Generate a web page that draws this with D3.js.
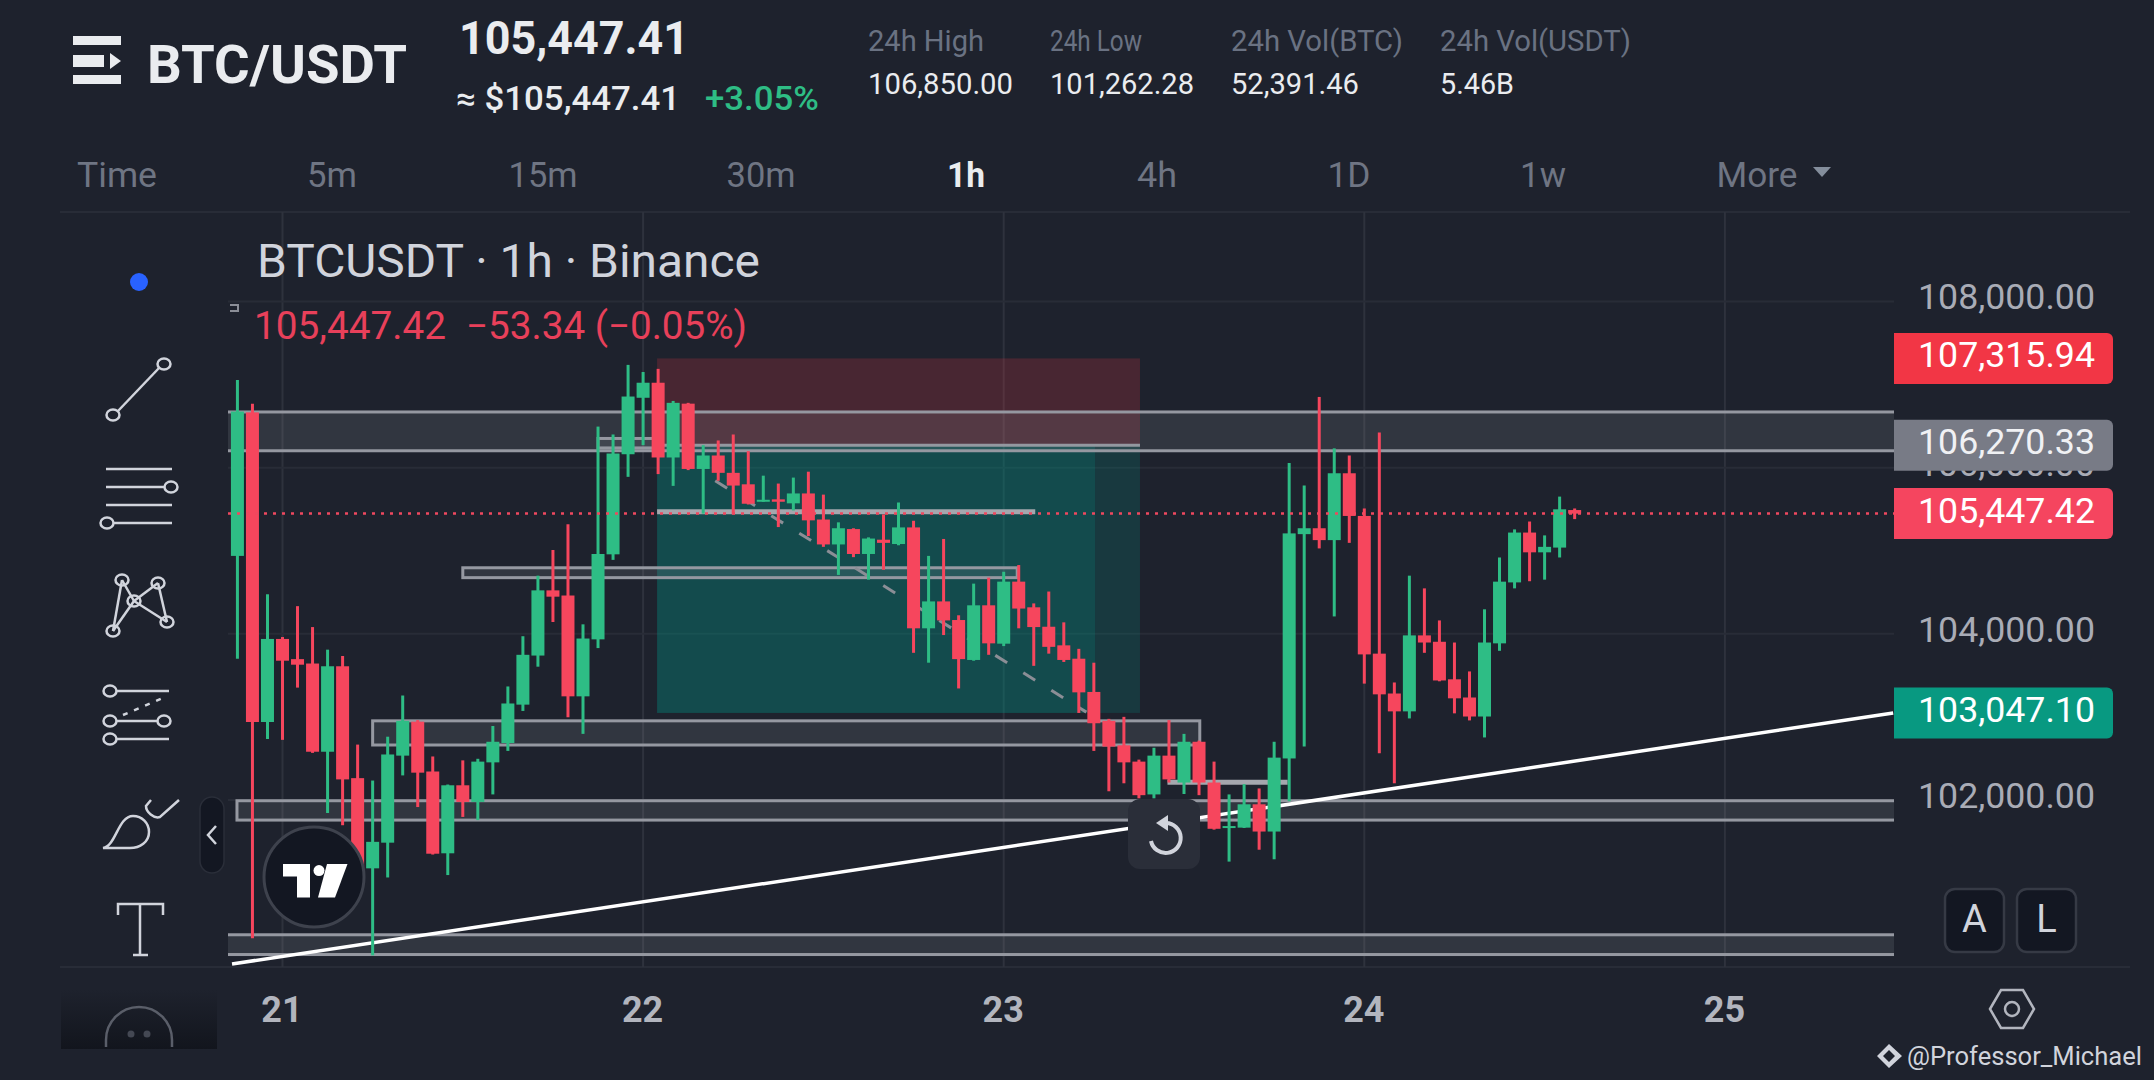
<!DOCTYPE html>
<html>
<head>
<meta charset="utf-8">
<script src="https://cdn.jsdelivr.net/npm/d3@7/dist/d3.min.js"></script>
<style>
  html, body { margin: 0; padding: 0; background: #1e222d; overflow: hidden; }
  svg { display: block; }
</style>
</head>
<body>
<svg id="chart" width="2154" height="1080"></svg>
<script>
// hours since the 21st 00:00, first candle is three hours before
const hours = d3.range(-3, 87)
const opens = [104938,106666,102938,103938,103695,103642,102580,103609,102262,101176,101485,102533,102942,102342,101357,102176,101976,102452,102685,103147,103738,104523,104461,103247,103933,104957,106162,106842,107023,106123,106771,105985,106147,105938,105800,105590,105619,105571,105690,105376,105076,105261,104961,105133,105081,105281,104066,104390,104166,103685,104343,103881,104628,104319,104085,103861,103700,103300,102952,102657,102461,102066,102533,102209,102700,102209,101662,101666,101947,101619,102499,105200,105271,105128,105933,105419,103761,103281,103066,103981,103904,103452,103233,103004,103885,104619,105219,104981,105038,105490]
const highs = [107057,106771,104476,103961,104333,104081,103809,103733,102666,102233,102761,103257,102961,102523,102185,102476,102495,102890,103366,103971,104700,105009,105319,104114,106495,106400,107238,107152,107190,106804,106781,106271,106328,106400,106200,105904,105809,105881,105952,105676,105342,105271,105161,105438,105581,105361,104938,105142,104223,104604,104676,104747,104828,104366,104509,104138,103819,103652,102976,103000,102485,102628,102961,102795,102714,102461,102066,102190,102138,102700,106057,105785,106852,106233,106147,105509,106423,103414,104700,104547,104161,103895,103547,104295,104919,105257,105352,105185,105652,105509]
const lows = [103700,100333,102733,102723,103352,102566,101842,101695,101152,100128,101066,102295,101914,101342,101095,101795,101757,102066,102590,103071,103604,104142,102995,102795,103828,104890,105890,106271,105923,105781,105971,105447,105842,105438,105557,105590,105285,105485,105176,105047,104709,104923,104652,104771,105066,103771,103652,103985,103342,103676,103747,103852,104066,103614,103761,103661,103047,102590,102104,102200,102019,102019,102209,102071,102057,101642,101257,101662,101400,101285,101985,102642,105028,104209,105095,103400,102561,102200,102981,103771,103428,103042,102957,102752,103795,104547,104633,104652,104919,105381]
const closes = [106676,102938,103938,103676,103628,102580,103609,102247,101200,101495,102547,102952,102328,101352,102176,101976,102461,102700,103161,103747,104523,104447,103247,103943,104961,106171,106857,107023,106123,106781,105985,106147,105938,105785,105566,105614,105590,105690,105366,105076,105271,104961,105147,105095,105281,104066,104390,104161,103695,104343,103885,104628,104304,104081,103843,103685,103295,102923,102642,102452,102057,102533,102247,102700,102209,101652,101685,101947,101619,102509,105209,105271,105128,105933,105419,103752,103271,103066,103981,103895,103438,103223,103004,103895,104628,105219,104981,105047,105499,105447]

const priceTicks = [108000, 106000, 104000, 102000]
const dayTicks = [0, 24, 48, 72, 96]
const dayLabels = ["21", "22", "23", "24", "25"]

// drawn zones: [start hour, end hour, top price, bottom price]
const zones = [
  [-6, 110, 106671, 106204],
  [21, 25, 106352, 106238],
  [12, 48.9, 104795, 104676],
  [6, 61.05, 102952, 102661],
  [-3.03, 110, 101990, 101757],
  [-6, 110, 100376, 100138]
]
// flat level lines: [start hour, end hour, price]
const levels = [
  [24.93, 50.1, 105471],
  [58.9, 66.9, 102214]
]
const lastPrice = 105447.42
const stopPrice = 107315.94
const entryPrice = 106270.33
const targetPrice = 103047.10
const positionHours = [24.93, 54.08, 57.07]
const trendHours = [-3.36, 107.2]
const trendPrices = [100024, 103047.10]
const dashHours = [28.8, 53.5]
const dashPrices = [105842, 103057]

const tabs = ["Time", "5m", "15m", "30m", "1h", "4h", "1D", "1w", "More"]
const statNames = ["24h High", "24h Low", "24h Vol(BTC)", "24h Vol(USDT)"]
const statValues = ["106,850.00", "101,262.28", "52,391.46", "5.46B"]

var bg = "#1e222d"
var grid = "#282c37"
var green = "#2ebd85"
var red = "#f6465d"
var zoneLine = "#9598a1"
var iconCol = "#d1d4dc"

var svg = d3.select("#chart")
svg.append("rect").attr("width", 2154).attr("height", 1080).attr("fill", bg)

var x = d3.scaleLinear().domain([0, 96]).range([282.5, 1724.9])
var y = d3.scaleLinear().domain([108000, 102000]).range([301.6, 799.9])

var plotLeft = 228, plotRight = 1894, plotTop = 212, plotBottom = 967

var defs = svg.append("defs")
defs.append("clipPath").attr("id", "plot").append("rect")
  .attr("x", plotLeft).attr("y", plotTop)
  .attr("width", plotRight - plotLeft).attr("height", plotBottom - plotTop)
var fade = defs.append("linearGradient").attr("id", "fade").attr("x1", 0).attr("x2", 0).attr("y1", 0).attr("y2", 1)
fade.append("stop").attr("offset", 0).attr("stop-color", "#1e222d")
fade.append("stop").attr("offset", 1).attr("stop-color", "#12151d")

function txt(px, py, s, size, color, weight, len, anchor) {
  var t = svg.append("text").attr("x", px).attr("y", py).text(s)
    .attr("font-family", "Roboto, sans-serif")
    .attr("font-size", size).attr("fill", color)
    .attr("font-weight", weight || 400)
    .attr("text-anchor", anchor || "start")
  if (len) t.attr("textLength", len).attr("lengthAdjust", "spacingAndGlyphs")
  return t
}

// frame and grid
svg.append("g").selectAll("line").data([plotTop, plotBottom]).join("line")
  .attr("x1", 60).attr("x2", 2130).attr("y1", d => d).attr("y2", d => d)
  .attr("stroke", grid).attr("stroke-width", 2)
svg.append("g").selectAll("line").data(dayTicks).join("line")
  .attr("x1", d => x(d)).attr("x2", d => x(d)).attr("y1", plotTop).attr("y2", plotBottom)
  .attr("stroke", "#2e323d").attr("stroke-width", 2)
svg.append("g").selectAll("line").data(priceTicks).join("line")
  .attr("x1", plotLeft).attr("x2", plotRight).attr("y1", d => y(d)).attr("y2", d => y(d))
  .attr("stroke", grid).attr("stroke-width", 2)

var plot = svg.append("g").attr("clip-path", "url(#plot)")

// long position tool
plot.append("rect")
  .attr("x", x(positionHours[0])).attr("width", x(positionHours[2]) - x(positionHours[0]))
  .attr("y", y(stopPrice)).attr("height", y(entryPrice) - y(stopPrice))
  .attr("fill", "rgba(242,54,69,0.2)")
plot.append("rect")
  .attr("x", x(positionHours[0])).attr("width", x(positionHours[2]) - x(positionHours[0]))
  .attr("y", y(entryPrice)).attr("height", y(targetPrice) - y(entryPrice))
  .attr("fill", "rgba(0,150,136,0.2)")
plot.append("rect")
  .attr("x", x(positionHours[0])).attr("width", x(positionHours[1]) - x(positionHours[0]))
  .attr("y", y(entryPrice)).attr("height", y(targetPrice) - y(entryPrice))
  .attr("fill", "rgba(0,150,136,0.2)")
plot.append("line")
  .attr("x1", x(positionHours[0])).attr("x2", x(positionHours[2]))
  .attr("y1", y(entryPrice)).attr("y2", y(entryPrice))
  .attr("stroke", zoneLine).attr("stroke-width", 3)

plot.append("g").selectAll("rect").data(zones).join("rect")
  .attr("x", d => x(d[0])).attr("width", d => x(d[1]) - x(d[0]))
  .attr("y", d => y(d[2])).attr("height", d => y(d[3]) - y(d[2]))
  .attr("fill", "rgba(149,152,161,0.17)")
  .attr("stroke", zoneLine).attr("stroke-width", 3)

plot.append("g").selectAll("line").data(levels).join("line")
  .attr("x1", d => x(d[0])).attr("x2", d => x(d[1]))
  .attr("y1", d => y(d[2])).attr("y2", d => y(d[2]))
  .attr("stroke", "#a5a7ae").attr("stroke-width", 5)

// dashed move line
plot.append("line")
  .attr("x1", x(dashHours[0])).attr("x2", x(dashHours[1]))
  .attr("y1", y(dashPrices[0])).attr("y2", y(dashPrices[1]))
  .attr("stroke", "#8b8e96").attr("stroke-width", 3)
  .attr("stroke-dasharray", "14 19")

// trend line
plot.append("line")
  .attr("x1", x(trendHours[0])).attr("x2", x(trendHours[1]))
  .attr("y1", y(trendPrices[0])).attr("y2", y(trendPrices[1]))
  .attr("stroke", "#ffffff").attr("stroke-width", 3.5)

// candles
var candles = plot.append("g").selectAll("g").data(hours).join("g")
candles.append("line")
  .attr("x1", d => x(d)).attr("x2", d => x(d))
  .attr("y1", (d, i) => y(highs[i])).attr("y2", (d, i) => y(lows[i]))
  .attr("stroke", (d, i) => closes[i] >= opens[i] ? green : red)
  .attr("stroke-width", 3)
candles.append("rect")
  .attr("x", d => x(d) - 6.5).attr("width", 13)
  .attr("y", (d, i) => y(Math.max(opens[i], closes[i])))
  .attr("height", (d, i) => Math.max(2, Math.abs(y(opens[i]) - y(closes[i]))))
  .attr("fill", (d, i) => closes[i] >= opens[i] ? green : red)

// last price line
plot.append("line")
  .attr("x1", plotLeft).attr("x2", plotRight)
  .attr("y1", y(lastPrice)).attr("y2", y(lastPrice))
  .attr("stroke", "#f0485f").attr("stroke-width", 2.5)
  .attr("stroke-dasharray", "3 6")

// price axis
var yAxis = svg.append("g").attr("transform", "translate(1918,0)")
  .call(d3.axisRight(y).tickValues(priceTicks).tickSize(0).tickPadding(0).tickFormat(d3.format(",.2f")))
yAxis.select(".domain").remove()
yAxis.selectAll("text")
  .attr("font-family", "Roboto, sans-serif").attr("font-size", 35)
  .attr("fill", "#a9acb6").attr("dy", "0.21em")
  .attr("textLength", 177).attr("lengthAdjust", "spacingAndGlyphs")

// time axis
var xAxis = svg.append("g").attr("transform", "translate(-1,1009)")
  .call(d3.axisBottom(x).tickValues(dayTicks).tickSize(0).tickPadding(0).tickFormat((d, i) => dayLabels[i]))
xAxis.select(".domain").remove()
xAxis.selectAll("text")
  .attr("font-family", "Roboto, sans-serif").attr("font-size", 36).attr("font-weight", 700)
  .attr("fill", "#b2b5be").attr("y", 0).attr("dy", "0.35em")

// price tags
var tags = [[stopPrice, "#f23645"], [entryPrice, "#787b86"], [lastPrice, "#f5455f"], [targetPrice, "#089981"]]
tags.forEach(function (t) {
  var c = y(t[0])
  svg.append("path")
    .attr("d", `M${plotRight},${c - 25.5}H2107a6,6 0 0 1 6,6V${c + 19.5}a6,6 0 0 1 -6,6H${plotRight}Z`)
    .attr("fill", t[1])
  txt(1918, c + 9, d3.format(",.2f")(t[0]), 35, t[1] == "#787b86" ? "#f0f1f4" : "#ffffff", 400, 177)
})

// header
svg.append("g").selectAll("rect").data([[73, 36, 48, 9], [73, 55, 31, 12], [73, 75, 48, 9]]).join("rect")
  .attr("x", d => d[0]).attr("y", d => d[1]).attr("width", d => d[2]).attr("height", d => d[3])
  .attr("fill", "#eaecef")
svg.append("path").attr("d", "M110,53L121,61L110,69Z").attr("fill", "#eaecef")
txt(147, 83, "BTC/USDT", 53, "#eaecef", 700, 260)
txt(459, 54, "105,447.41", 46, "#eaecef", 700, 230)
txt(456, 110, "≈ $105,447.41", 33, "#eaecef", 500, 224)
txt(705, 110, "+3.05%", 33, green, 500, 114)

var statX = [868, 1050, 1231, 1440]
var statNameW = [116, 92, 172, 191]
var statValW = [145, 144, 128, 74]
statNames.forEach(function (s, i) { txt(statX[i], 51, s, 30, "#6a7282", 400, statNameW[i]) })
statValues.forEach(function (s, i) { txt(statX[i], 94, s, 29, "#eaecef", 400, statValW[i]) })

// interval tabs
var tabX = [117, 332, 543, 761, 966, 1157, 1349, 1543, 1757]
var tabW = [80, 50, 69, 69, 38, 40, 43, 46, 81]
tabs.forEach(function (s, i) {
  txt(tabX[i], 187, s, 35, s == "1h" ? "#eaecef" : "#6f7583", s == "1h" ? 700 : 400, tabW[i], "middle")
})
svg.append("path").attr("d", "M1813,167H1831L1822,177Z").attr("fill", "#848e9c")

// legend
txt(257, 277, "BTCUSDT · 1h · Binance", 46, "#d1d4dc", 400, 503)
txt(254, 339, "105,447.42", 38, "#e8405a", 400, 192)
txt(466, 339, "−53.34 (−0.05%)", 38, "#e8405a", 400, 281)
svg.append("path").attr("d", "M230,305H238V311H230").attr("fill", "none")
  .attr("stroke", "#8a8d96").attr("stroke-width", 2)

// left toolbar
var tb = svg.append("g").attr("fill", "none").attr("stroke", iconCol).attr("stroke-width", 2.5)
svg.append("circle").attr("cx", 139).attr("cy", 282).attr("r", 9).attr("fill", "#2962ff")
function seg(a, b, c, d) { tb.append("line").attr("x1", a).attr("y1", b).attr("x2", c).attr("y2", d) }
function dot(a, b) { tb.append("ellipse").attr("cx", a).attr("cy", b).attr("rx", 6.5).attr("ry", 5.5) }
// line
seg(118, 411, 159, 368); dot(113, 415); dot(164, 364)
// parallel lines
seg(106, 469, 172, 469); seg(106, 487, 164, 487); seg(106, 505, 172, 505); seg(114, 523, 172, 523)
dot(171, 487); dot(107, 523)
// xabcd
seg(113, 631, 122, 580); seg(122, 580, 134, 601); seg(113, 631, 134, 601); seg(134, 601, 158, 583); seg(158, 583, 167, 622); seg(134, 601, 167, 622)
dot(122, 580); dot(158, 583); dot(134, 601); dot(113, 631); dot(167, 622)
// fib
seg(117, 691, 169, 691); seg(117, 721, 157, 721); seg(117, 739, 169, 739)
dot(110, 691); dot(110, 721); dot(164, 721); dot(110, 739)
tb.append("line").attr("x1", 123).attr("y1", 715).attr("x2", 163).attr("y2", 698).attr("stroke-dasharray", "5 7")
// brush
tb.append("path").attr("d", "M103,848C116,846 118,816 133,816C142,816 149,823 149,832C149,842 140,848 130,848Z")
tb.append("path").attr("d", "M151,800L146,806C146,812 154,819 160,817L179,800")
// text tool
tb.append("path").attr("d", "M118,915V904H163V915M140,904V955M133,955H148")

// scroller at the bottom of the toolbar
svg.append("rect").attr("x", 61).attr("y", 990).attr("width", 156).attr("height", 59).attr("fill", "url(#fade)")
svg.append("path").attr("d", "M106,1047V1040A33,33 0 0 1 172,1040V1047").attr("fill", "none").attr("stroke", "#5a5e69").attr("stroke-width", 2.5)
svg.append("g").selectAll("circle").data([131, 147]).join("circle")
  .attr("cx", d => d).attr("cy", 1034).attr("r", 3.5).attr("fill", "#444853")

// collapse button
svg.append("rect").attr("x", 200).attr("y", 797).attr("width", 24).attr("height", 76).attr("rx", 12)
  .attr("fill", "#131722").attr("stroke", "#2a2e39").attr("stroke-width", 1.5)
svg.append("path").attr("d", "M216,826L208,835L216,844").attr("fill", "none").attr("stroke", iconCol).attr("stroke-width", 2.5)

// tradingview logo
svg.append("circle").attr("cx", 314).attr("cy", 877).attr("r", 50)
  .attr("fill", "#131722").attr("stroke", "#3e424d").attr("stroke-width", 3)
svg.append("path").attr("d", "M283,864H310V897.5H297V876.6H283Z").attr("fill", "#ffffff")
svg.append("circle").attr("cx", 319).attr("cy", 870.6).attr("r", 5.5).attr("fill", "#ffffff")
svg.append("path").attr("d", "M327,864H347.5L335,897.5H318Z").attr("fill", "#ffffff")

// reset button
svg.append("rect").attr("x", 1128).attr("y", 799).attr("width", 72).attr("height", 70).attr("rx", 12).attr("fill", "#2a2e39")
svg.append("path").attr("d", "M1151,841A15,15 0 1 0 1166,823").attr("fill", "none").attr("stroke", iconCol).attr("stroke-width", 4)
svg.append("path").attr("d", "M1168,815V831L1156,823Z").attr("fill", iconCol)

// auto / log buttons
var btnX = [1945, 2017]
var btnLabels = ["A", "L"]
btnX.forEach(function (b, i) {
  svg.append("rect").attr("x", b).attr("y", 889).attr("width", 59).attr("height", 63).attr("rx", 10)
    .attr("fill", "#131722").attr("stroke", "#363a45").attr("stroke-width", 2.5)
  txt(b + 29.5, 932, btnLabels[i], 38, iconCol, 400, null, "middle")
})

// settings hexagon
svg.append("path").attr("d", "M1990,1009L2001,990H2023L2034,1009L2023,1028H2001Z")
  .attr("fill", "none").attr("stroke", "#b2b5be").attr("stroke-width", 2.5)
svg.append("circle").attr("cx", 2012).attr("cy", 1009).attr("r", 7)
  .attr("fill", "none").attr("stroke", "#b2b5be").attr("stroke-width", 2.5)

// watermark
svg.append("path").attr("d", "M1889,1044L1902,1056L1889,1068L1877,1056Z M1889,1050L1895,1056L1889,1062L1883,1056Z")
  .attr("fill", "#d1d4dc").attr("fill-rule", "evenodd")
txt(1907, 1065, "@Professor_Michael", 26, "#d1d4dc", 400, 235)
</script>
</body>
</html>
